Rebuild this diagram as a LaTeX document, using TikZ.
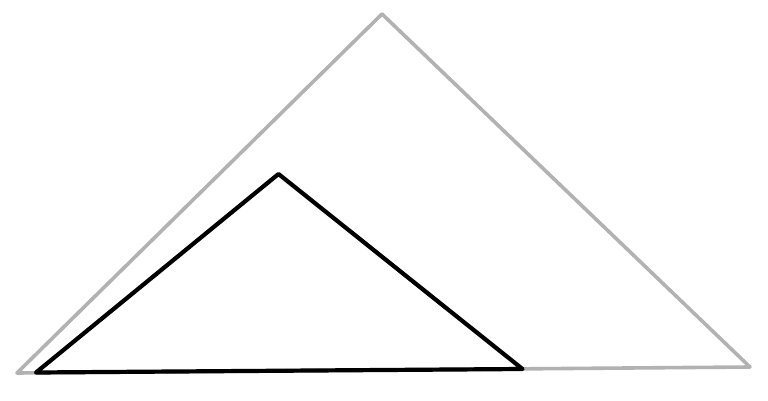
\documentclass[tikz,border=0pt]{standalone}
\begin{document}
\begin{tikzpicture}[x=1pt,y=-1pt,
  outer/.style={draw={rgb,255:red,178;green,178;blue,178},line width=3.6pt,line join=round},
  inner/.style={draw=black,line width=4.2pt,line join=round}]
\useasboundingbox (0,0) rectangle (768,401);
\coordinate (gA) at (17,373);
\coordinate (gB) at (382,14);
\coordinate (gC) at (750,367);
\coordinate (bA) at (36,372.5);
\coordinate (bB) at (278.5,174);
\coordinate (bC) at (522.5,369);
\draw[outer] (gA) -- (gB) -- (gC) -- cycle;
\draw[inner] (bA) -- (bB) -- (bC) -- cycle;
\end{tikzpicture}
\end{document}
